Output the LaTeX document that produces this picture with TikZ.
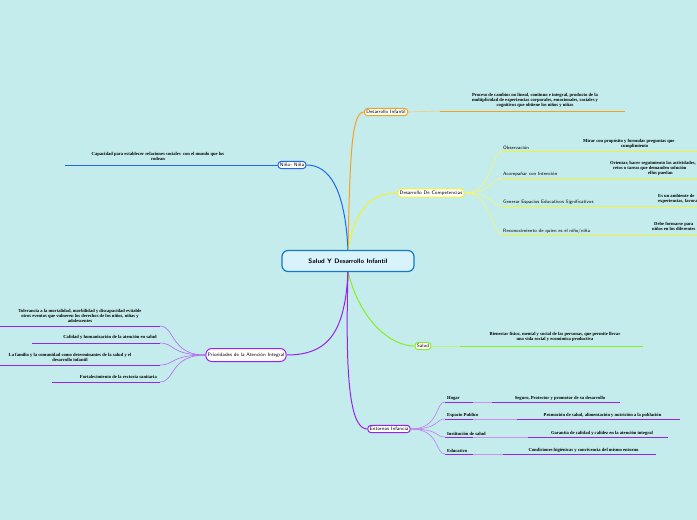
\documentclass[tikz,border=0pt]{standalone}
\usepackage{fontspec}
\setmainfont{Liberation Serif}
\begin{document}
\begin{tikzpicture}[x=1pt,y=-1pt,
 box/.style={draw=#1,line width=1pt,fill=white,rounded corners=3pt,inner sep=1.8pt,font=\sffamily\fontsize{5}{6}\selectfont},
 lbl/.style={font=\fontsize{4.6}{5}\selectfont\bfseries,inner sep=1pt,align=center},
 sub/.style={font=\sffamily\fontsize{4.8}{5.5}\selectfont,inner sep=1pt,anchor=south west}]
\definecolor{bg}{HTML}{C4ECEC}
\fill[bg] (0,0) rectangle (697,520);
\clip (0,0) rectangle (697,520);
\useasboundingbox (0,0) rectangle (697,520);
\definecolor{org}{HTML}{F7A21B}\definecolor{yel}{HTML}{F2F230}\definecolor{blu}{HTML}{2266EE}
\definecolor{grn}{HTML}{88EE22}\definecolor{pur}{HTML}{9922EE}
% center
\node[draw=cyan!60!blue,line width=1.2pt,fill=cyan!15,rounded corners=6pt,minimum width=132pt,minimum height=21pt,font=\sffamily\bfseries\fontsize{6.5}{7}\selectfont] (c) at (348,261) {Salud Y Desarrollo Infantil};
% Desarrollo Infantil
\node[box=org] (di) at (386,112) {Desarrollo Infantil};
\draw[org,line width=1pt] (348,250) .. controls (350,150) and (352,112) .. (di.west);
\draw[org!60,line width=0.6pt] (di.east) -- (440,111);
\draw[org,line width=1pt] (440,111) -- (625,111);
\node[lbl] (dit) at (535,100) {Proceso de cambios no lineal, continuo e integral, producto de la\\multiplicidad de experiencias corporales, emocionales, sociales y\\cognitivos que obtiene los niños y niñas};
% Competencias
\node[box=yel] (dc) at (431,193) {Desarrollo De Competencias};
\draw[yel,line width=1pt] (348,250) .. controls (355,210) and (370,193) .. (dc.west);
\foreach \y/\t in {151/Observación, 178/Acompañar con Intención, 206/Generar Espacios Educativos Significativos, 235/{Reconocimiento de quien es el niño\slash niña}}{
 \node[sub] (s\y) at (502,\y) {\t};
 \draw[yel!70,line width=0.6pt] (dc.east) .. controls (492,193) and (492,\y) .. (502,\y);
 \draw[yel,line width=0.8pt] (502,\y) -- (697,\y);
}
\node[lbl,anchor=south west,align=left] (o1) at (582,150) {Mirar con propósito y formular preguntas que\\\hspace*{38pt}cumplimiento};
\node[lbl,anchor=south west,align=left] (o2) at (609,177) {Orientar, hacer seguimiento las actividades,\\\hspace*{3pt}retos o tareas que demanden solución\\\hspace*{38pt}ellos puedan};
\node[lbl,anchor=south west,align=left] (o3) at (657,205) {Es un ambiente de\\experiencias, favorables};
\node[lbl,anchor=south west,align=left] (o4) at (651,232) {\hspace*{2pt}Debe formarse para\\niños en los diferentes};
% Nino
\node[box=blu] (nn) at (292,165) {Niño- Niña};
\draw[blu,line width=1pt] (348,250) .. controls (345,190) and (330,165) .. (nn.east);
\draw[blu,line width=1pt] (nn.west) -- (65,165);
\node[lbl] (nnt) at (158,156) {Capacidad para establecer relaciones sociales \ con el mundo que los\\rodean};
% Salud
\node[box=grn] (sa) at (423,346) {Salud};
\draw[grn,line width=1pt] (348,272) .. controls (360,320) and (390,346) .. (sa.west);
\draw[grn!60,line width=0.6pt] (sa.east) -- (460,346);
\draw[grn,line width=1pt] (460,346) -- (643,346);
\node[lbl] (sat) at (555,337) {Bienestar físico, mental y social de las personas, que permite llevar\\una vida social y económica productiva};
% Prioridades
\node[box=pur,rounded corners=6pt,minimum height=13pt] (pr) at (246,355) {Prioridades de la Atención Integral};
\draw[pur,line width=1pt] (348,272) .. controls (345,330) and (330,355) .. (pr.east);
\foreach \y/\x in {326/0,343/32,365/0,382/52}{
 \draw[pur!70,line width=0.6pt] (pr.west) .. controls (170,355) and (175,\y) .. (160,\y);
 \draw[pur,line width=0.8pt] (160,\y) -- (\x,\y);
}
\node[lbl,anchor=south] (p1) at (80,324) {Tolerancia a la mortalidad, morbilidad y discapacidad evitable\\otros eventos que vulneren los derechos de los niños, niñas y\\adolescentes};
\node[lbl,anchor=south east] (p2) at (158,341) {Calidad y humanización de la atención en salud};
\node[lbl,anchor=south] (p3) at (70,363) {La familia y la comunidad como determinantes de la salud y el\\desarrollo infantil};
\node[lbl,anchor=south east] (p4) at (158,380) {Fortalecimiento de la rectoría sanitaria};
% Entornos
\node[box=pur] (en) at (389,429) {Entornos Infancia};
\draw[pur,line width=1pt] (348,272) .. controls (345,380) and (350,429) .. (en.west);
\foreach \y/\t/\a/\b/\r in {402/Hogar/492/620/{Seguro, Protector y promotor de su desarrollo},
 419/Espacio Publico/517/680/{Promoción de salud, alimentación y nutrición a la población},
 437/Institución de salud/528/668/{Garantía de calidad y calidez en la atención integral},
 454/Educativo/503/656/{Condiciones higiénicas y convivencia del mismo entorno}}{
 \draw[pur!60,line width=0.6pt] (en.east) .. controls (440,429) and (435,\y) .. (445,\y);
 \node[lbl,anchor=south west] (e\y) at (446,\y) {\t};
 \draw[pur,line width=0.8pt] (445,\y) -- +(28,0);
 \draw[pur!50,line width=0.6pt] (473,\y) -- (\a,\y);
 \draw[pur,line width=0.8pt] (\a,\y) -- (\b,\y);
 \node[lbl,anchor=south] (f\y) at ({(\a+\b)/2+4},\y) {\r};
}
\end{tikzpicture}
\end{document}
